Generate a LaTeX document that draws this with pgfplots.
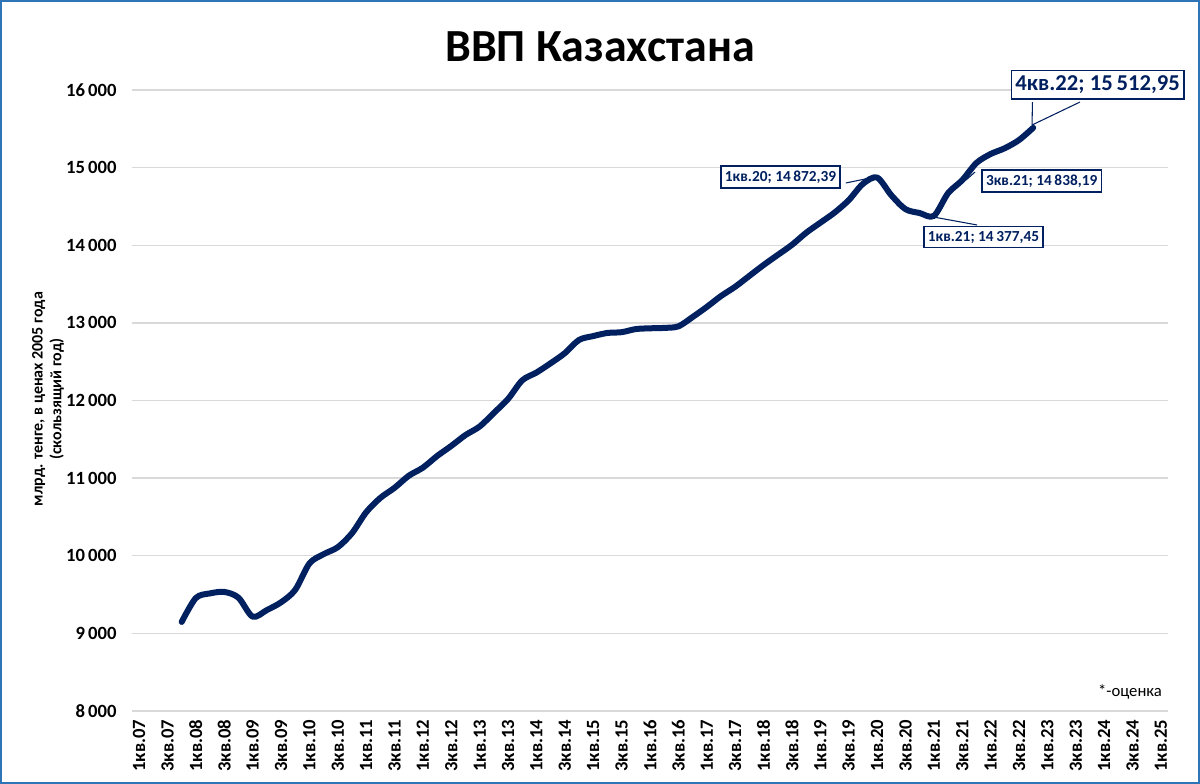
\documentclass[border=0pt]{standalone}
\usepackage{pgfplots}
\pgfplotsset{compat=1.18}
\usepackage{fontspec}
\setmainfont{Carlito}
\definecolor{navy}{RGB}{0,32,96}
\definecolor{frameblue}{RGB}{47,117,181}
\definecolor{gridgray}{RGB}{217,217,217}
\begin{document}
\begin{tikzpicture}[x=1pt,y=1pt]
\path[use as bounding box] (0,0) rectangle (900,588);
\fill[white] (0,0) rectangle (900,588);
\begin{axis}[
  at={(99pt,54.75pt)}, anchor=south west,
  scale only axis, width=777pt, height=465.75pt,
  xmin=-0.5, xmax=72.5, ymin=8000, ymax=16000,
  axis line style={draw=none},
  major tick length=0pt,
  ymajorgrids, grid style={gridgray, line width=1.1pt},
  xtick={0,2,...,72},
  xticklabels={1кв.07,3кв.07,1кв.08,3кв.08,1кв.09,3кв.09,1кв.10,3кв.10,1кв.11,3кв.11,1кв.12,3кв.12,1кв.13,3кв.13,1кв.14,3кв.14,1кв.15,3кв.15,1кв.16,3кв.16,1кв.17,3кв.17,1кв.18,3кв.18,1кв.19,3кв.19,1кв.20,3кв.20,1кв.21,3кв.21,1кв.22,3кв.22,1кв.23,3кв.23,1кв.24,3кв.24,1кв.25},
  ytick={8000,9000,...,16000},
  scaled y ticks=false,
  /pgf/number format/.cd, 1000 sep={\,}, assume math mode=true, /pgfplots/.cd,
  x tick label style={rotate=90, anchor=east, font=\bfseries\fontsize{14}{16}\selectfont},
  y tick label style={font=\bfseries\fontsize{14}{16}\selectfont},
  xticklabel shift=3pt,
  yticklabel shift=8pt,
  clip=false,
]
\addplot[navy, line width=4.5pt, smooth, tension=0.5, line cap=round, line join=round] coordinates {
(3,9147) (4,9456) (5,9515) (6,9534) (7,9460) (8,9215) (9,9300) (10,9400)
(11,9560) (12,9900) (13,10020) (14,10110) (15,10290) (16,10560) (17,10745)
(18,10875) (19,11030) (20,11135) (21,11285) (22,11415) (23,11555) (24,11665)
(25,11840) (26,12020) (27,12260) (28,12360) (29,12480) (30,12610) (31,12780)
(32,12830) (33,12870) (34,12880) (35,12920) (36,12930) (37,12935) (38,12955)
(39,13075) (40,13205) (41,13345) (42,13465) (43,13605) (44,13745) (45,13875)
(46,14005) (47,14160) (48,14290) (49,14420) (50,14580) (51,14790) (52,14872.39)
(53,14645) (54,14465) (55,14415) (56,14377.45) (57,14670) (58,14838.19)
(59,15060) (60,15175) (61,15250) (62,15355) (63,15512.95)
};
\tikzset{lbl/.style={draw=navy, line width=1.1pt, fill=white, text=navy, font=\bfseries\fontsize{11.5}{13}\selectfont, inner xsep=3pt, inner ysep=3.5pt}}
\draw[navy, line width=0.8pt] (axis cs:49.8,14802) -- (axis cs:51.5,14866);
\draw[navy, line width=0.8pt] (axis cs:58.9,14943) -- (axis cs:58.27,14840);
\draw[navy, line width=0.8pt] (axis cs:55.96,14364) -- (axis cs:59.05,14261);
\draw[navy, line width=0.8pt] (axis cs:62.95,15845) -- (axis cs:62.92,15549);
\draw[navy, line width=0.8pt] (axis cs:66.3,15845) -- (axis cs:62.92,15549);
\node[lbl] at (axis cs:45.2,14880) {1кв.20; 14\,872,39};
\node[lbl] at (axis cs:63.6,14827) {3кв.21; 14\,838,19};
\node[lbl] at (axis cs:59.5,14106) {1кв.21; 14\,377,45};
\node[lbl, font=\bfseries\fontsize{17}{19}\selectfont, inner ysep=4pt] at (axis cs:67.54,16070) {4кв.22; 15\,512,95};
\end{axis}
\node[font=\bfseries\fontsize{34.5}{38}\selectfont] at (450,553) {ВВП Казахстана};
\node[rotate=90, align=center, font=\bfseries\fontsize{12}{14}\selectfont] at (36,288.75) {млрд. тенге, в ценах 2005 года\\(скользящий год)};
\node[font=\fontsize{12.5}{14}\selectfont] at (847.5,69) {*-оценка};
\draw[frameblue, line width=1.5pt] (0.75,0.75) rectangle (899.25,587.25);
\end{tikzpicture}
\end{document}
